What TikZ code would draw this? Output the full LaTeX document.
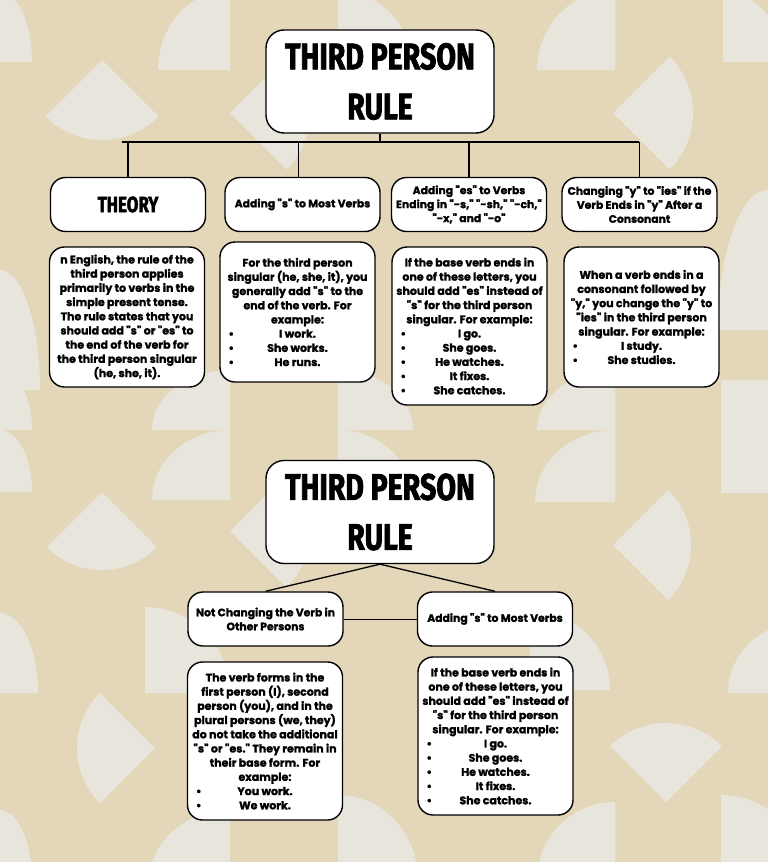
\documentclass[tikz,border=0pt]{standalone}
\usepackage{fontspec}
\setmainfont{Poppins}[Ligatures=TeXOff, BoldFeatures={FakeBold=1.5}]
\newfontfamily\titlefont[FakeStretch=0.77, BoldFeatures={FakeBold=2}]{Fira Sans}
\usepackage{tikz}
\definecolor{bgbeige}{HTML}{E4D7B9}
\definecolor{bglight}{HTML}{E8E5DD}
\newlength{\bulletw}
\setlength{\bulletw}{138pt}
\newcommand{\bitem}[1]{\makebox[\bulletw]{\rlap{\textbullet}\hfill #1\hfill}}

\begin{document}
\begin{tikzpicture}[x=1pt, y=-1pt,
  bgshape/.style={fill=bglight},
  titlebox/.style={draw, fill=white, line width=1.4pt, rounded corners=18pt, minimum width=228pt, minimum height=103pt, align=center, font=\titlefont\bfseries\fontsize{37}{50}\selectfont},
  headbox/.style={draw, fill=white, line width=1.4pt, rounded corners=15pt, minimum width=155pt, minimum height=54pt, align=center, inner sep=1pt, font=\bfseries\fontsize{10.8}{14}\selectfont},
  textbox/.style={headbox, minimum height=140pt, font=\bfseries\fontsize{11}{14.2}\selectfont},
  link/.style={line width=1.3pt}]
  \useasboundingbox (0,0) rectangle (768,862);
  \fill[bgbeige] (0,0) rectangle (768,862);

  % background pattern
  \fill[bgshape] (230,70) -- ++(180:72 and 80) arc[start angle=180, end angle=270, x radius=72, y radius=80] -- cycle;
  \fill[bgshape] (615,70) -- ++(180:78 and 80) arc[start angle=180, end angle=270, x radius=78, y radius=80] -- cycle;
  \fill[bgshape] (338,70) -- ++(270:75 and 80) arc[start angle=270, end angle=360, x radius=75, y radius=80] -- cycle;
  \fill[bgshape] (0,62) -- ++(270:32 and 70) arc[start angle=270, end angle=360, x radius=32, y radius=70] -- cycle;
  \fill[bgshape] (723,62) -- ++(270:60 and 70) arc[start angle=270, end angle=360, x radius=60, y radius=70] -- cycle;
  \fill[bgshape] (230,430) -- ++(180:78 and 60) arc[start angle=180, end angle=270, x radius=78, y radius=60] -- cycle;
  \fill[bgshape] (230,500) -- ++(180:78 and 70) arc[start angle=180, end angle=270, x radius=78, y radius=70] -- cycle;
  \fill[bgshape] (615,430) -- ++(180:78 and 60) arc[start angle=180, end angle=270, x radius=78, y radius=60] -- cycle;
  \fill[bgshape] (615,502) -- ++(180:80 and 72) arc[start angle=180, end angle=270, x radius=80, y radius=72] -- cycle;
  \fill[bgshape] (338,430) -- ++(270:75 and 60) arc[start angle=270, end angle=360, x radius=75, y radius=60] -- cycle;
  \fill[bgshape] (338,500) -- ++(270:75 and 70) arc[start angle=270, end angle=360, x radius=75, y radius=70] -- cycle;
  \fill[bgshape] (0,430) -- ++(270:32 and 60) arc[start angle=270, end angle=360, x radius=32, y radius=60] -- cycle;
  \fill[bgshape] (0,492) -- ++(270:32 and 62) arc[start angle=270, end angle=360, x radius=32, y radius=62] -- cycle;
  \fill[bgshape] (721,380) rectangle (768,493);
  \fill[bgshape] (0,390) -- ++(270:40 and 120) arc[start angle=270, end angle=360, x radius=40, y radius=120] -- cycle;
  \fill[bgshape] (768,330) -- ++(180:50 and 140) arc[start angle=180, end angle=270, x radius=50, y radius=140] -- cycle;
  \fill[bgshape] (0,693) -- ++(270:38 and 80) arc[start angle=270, end angle=360, x radius=38, y radius=80] -- cycle;
  \fill[bgshape] (145,693) -- ++(270:85 and 86) arc[start angle=270, end angle=360, x radius=85, y radius=86] -- cycle;
  \fill[bgshape] (530,690) -- ++(270:80 and 80) arc[start angle=270, end angle=360, x radius=80, y radius=80] -- cycle;
  \fill[bgshape] (800,693) -- ++(180:72 and 70) arc[start angle=180, end angle=270, x radius=72, y radius=70] -- cycle;
  \fill[bgshape] (0,880) -- ++(270:32 and 70) arc[start angle=270, end angle=360, x radius=32, y radius=70] -- cycle;
  \fill[bgshape] (230,880) -- ++(180:80 and 70) arc[start angle=180, end angle=270, x radius=80, y radius=70] -- cycle;
  \fill[bgshape] (615,880) -- ++(180:78 and 78) arc[start angle=180, end angle=270, x radius=78, y radius=78] -- cycle;
  \fill[bgshape] (721,880) -- ++(270:85 and 85) arc[start angle=270, end angle=360, x radius=85, y radius=85] -- cycle;
  \fill[bgshape] (338,880) -- ++(270:80 and 85) arc[start angle=270, end angle=360, x radius=80, y radius=85] -- cycle;
  \fill[bgshape] (102,60) -- ++(45:80) arc[start angle=45, end angle=135, radius=80] -- cycle;
  \fill[bgshape] (102,492) -- ++(45:78) arc[start angle=45, end angle=135, radius=78] -- cycle;
  \fill[bgshape] (230,531) -- ++(-45:80) arc[start angle=-45, end angle=45, radius=80] -- cycle;
  \fill[bgshape] (613,545) -- ++(-45:78) arc[start angle=-45, end angle=45, radius=78] -- cycle;
  \fill[bgshape] (155,748) -- ++(135:78) arc[start angle=135, end angle=225, radius=78] -- cycle;
  \fill[bgshape] (666,802) -- ++(225:79) arc[start angle=225, end angle=315, radius=79] -- cycle;
  \fill[bgshape] (613,113) -- ++(-45:80) arc[start angle=-45, end angle=45, radius=80] -- cycle;
  \fill[bgshape] (230,113) -- ++(-45:80) arc[start angle=-45, end angle=45, radius=80] -- cycle;

  % upper chart
  \node[titlebox] (title1) at (380,81.5) {THIRD PERSON\\RULE};
  \node[headbox, font=\titlefont\bfseries\fontsize{22}{26}\selectfont] (theory) at (128,204.5) {THEORY};
  \node[headbox] (addS) at (302.5,204.5) {Adding "s" to Most Verbs};
  \node[headbox] (addEs) at (469,204.5) {Adding "es" to Verbs\\Ending in "-s," "-sh," "-ch,"\\"-x," and "-o"};
  \node[headbox] (changeY) at (639.5,204.5) {Changing "y" to "ies" if the\\Verb Ends in "y" After a\\Consonant};

  \node[textbox] (theoryText) at (127,317) {n English, the rule of the\\third person applies\\primarily to verbs in the\\simple present tense.\\The rule states that you\\should add "s" or "es" to\\the end of the verb for\\the third person singular\\(he, she, it).};
  \node[textbox] (addSText) at (297.5,312) {For the third person\\singular (he, she, it), you\\generally add "s" to the\\end of the verb. For\\example:\\\bitem{I work.}\\\bitem{She works.}\\\bitem{He runs.}};
  \node[textbox, minimum height=158pt] (addEsText) at (469.5,326) {If the base verb ends in\\one of these letters, you\\should add "es" instead of\\"s" for the third person\\singular. For example:\\\bitem{I go.}\\\bitem{She goes.}\\\bitem{He watches.}\\\bitem{It fixes.}\\\bitem{She catches.}};
  \node[textbox] (changeYText) at (641.5,317) {When a verb ends in a\\consonant followed by\\"y," you change the "y" to\\"ies" in the third person\\singular. For example:\\\bitem{I study.}\\\bitem{She studies.}};

  \coordinate (barL) at (122,142);
  \coordinate (barR) at (639,142);
  \draw[link] (barL) -- (barR);
  \draw[link] (title1.south) -- (title1.south |- barL);
  \draw[link] (theory.north) -- (theory.north |- barL);
  \draw[link] ([xshift=-4pt]addS.north) -- ([xshift=-4pt]addS.north |- barL);
  \draw[link] (addEs.north) -- (addEs.north |- barL);
  \draw[link] (changeY.north) -- (changeY.north |- barL);

  % lower chart
  \node[titlebox] (title2) at (380,512) {THIRD PERSON\\RULE};
  \node[headbox] (notChange) at (265.5,619) {Not Changing the Verb in\\Other Persons};
  \node[headbox] (addS2) at (495,619) {Adding "s" to Most Verbs};
  \node[textbox, minimum height=158pt] (notChangeText) at (265,741) {The verb forms in the\\first person (I), second\\person (you), and in the\\plural persons (we, they)\\do not take the additional\\"s" or "es." They remain in\\their base form. For\\example:\\\bitem{You work.}\\\bitem{We work.}};
  \node[textbox, minimum height=158pt] (addS2Text) at (495.5,736) {If the base verb ends in\\one of these letters, you\\should add "es" instead of\\"s" for the third person\\singular. For example:\\\bitem{I go.}\\\bitem{She goes.}\\\bitem{He watches.}\\\bitem{It fixes.}\\\bitem{She catches.}};

  \draw[link] (title2.south) -- (notChange.north);
  \draw[link] (title2.south) -- (addS2.north);
  \draw[line width=0.9pt] (notChange.east) -- (addS2.west);
\end{tikzpicture}
\end{document}
